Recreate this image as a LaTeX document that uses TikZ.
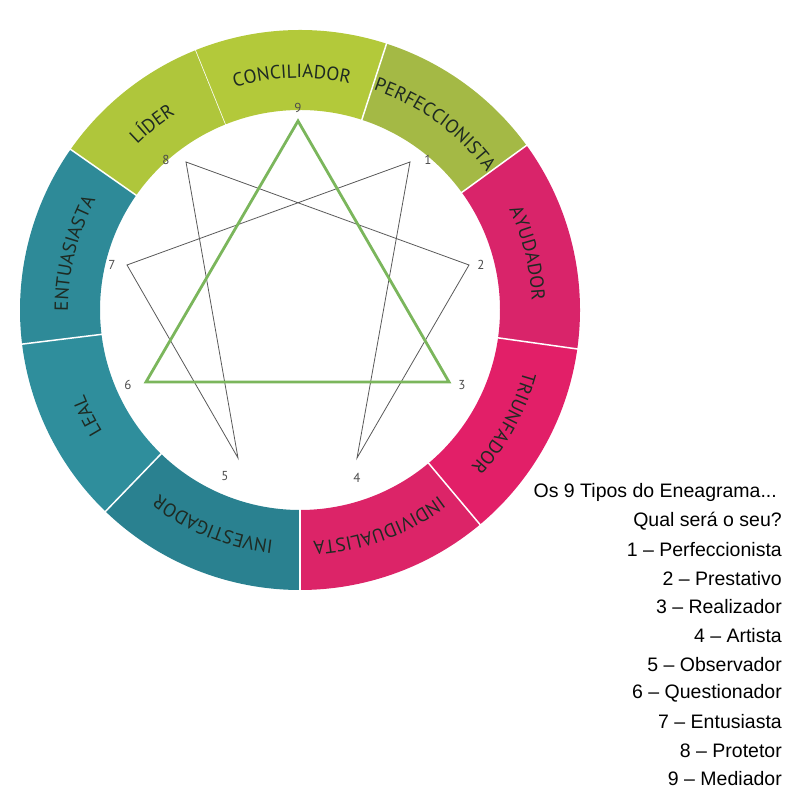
\documentclass[tikz,border=0pt]{standalone}
\usepackage{fontspec}
\setmainfont{Liberation Sans}
\newfontfamily\ringfont{PT Sans}
\usetikzlibrary{decorations.text}
\definecolor{gA}{HTML}{B3C93A}
\definecolor{gB}{HTML}{A4B945}
\definecolor{gC}{HTML}{AFC63B}
\definecolor{pA}{HTML}{D9246A}
\definecolor{pB}{HTML}{E21F68}
\definecolor{pC}{HTML}{DC2468}
\definecolor{tA}{HTML}{2F8E9C}
\definecolor{tB}{HTML}{2A8190}
\definecolor{tC}{HTML}{2E8A98}
\definecolor{ink}{HTML}{1E2A22}
\definecolor{tri}{HTML}{7BB65C}
\begin{document}
\begin{tikzpicture}[x=1pt,y=1pt,
  seg/.style={fill=#1},
  lab/.style={font=\ringfont\fontsize{13}{13}\selectfont, text=black!70},
  enn/.style={draw=black!65, line width=0.8pt},
  info/.style={anchor=east, font=\fontsize{19.5}{21}\selectfont, inner sep=0pt}]
\useasboundingbox (0,0) rectangle (800,800);
\coordinate (c) at (300,490);
% ring segments
\foreach \a/\b/\col in {112/72/gA,72/36/gB,36/-8/pA,-8/-50/pB,-50/-90/pC,-90/-134/tB,-134/-173/tA,-173/-215/tC,-215/-248/gC}{
  \fill[seg=\col] ([shift={(\a:280)}]c) arc[start angle=\a,end angle=\b,radius=280]
     -- ([shift={(\b:200)}]c) arc[start angle=\b,end angle=\a,radius=200] -- cycle;
  \draw[white, line width=1.5pt] ([shift={(\a:195)}]c) -- ([shift={(\a:300)}]c);
}
% ring texts
\foreach \a/\b/\t in {112/72/CONCILIADOR,72/36/PERFECCIONISTA,36/-8/AYUDADOR,-8/-50/TRIUNFADOR,-50/-90/INDIVIDUALISTA,-90/-134/INVESTIGADOR,-134/-173/LEAL,-173/-215/ENTUASIASTA,-215/-248/LÍDER}{
  \path[decorate, decoration={text along path, text align=center,
     text={|\ringfont\fontsize{19}{19}\selectfont\color{ink}|\t}}]
     ([shift={(\a:232)}]c) arc[start angle=\a,end angle=\b,radius=232];
}
% enneagram points
\coordinate (p9) at (298,679);
\coordinate (p1) at (410,638);
\coordinate (p2) at (469,535);
\coordinate (p3) at (449,418);
\coordinate (p4) at (357,342);
\coordinate (p5) at (238,342);
\coordinate (p6) at (146,418);
\coordinate (p7) at (127,535);
\coordinate (p8) at (186,638);
\draw[enn, line join=miter] (p1) -- (p4) -- (p2) -- (p8) -- (p5) -- (p7) -- cycle;
\draw[tri, line width=2.8pt] (p9) -- (p3) -- (p6) -- cycle;
\node[lab] (l9) at (298,692) {9};
\node[lab] (l1) at (428,640) {1};
\node[lab] (l2) at (481,535) {2};
\node[lab] (l3) at (462,415) {3};
\node[lab] (l4) at (357,322) {4};
\node[lab] (l5) at (225,324) {5};
\node[lab] (l6) at (128,415) {6};
\node[lab] (l7) at (112,535) {7};
\node[lab] (l8) at (166,640) {8};
% legend
\node[info] (i0) at (777,308) {Os 9 Tipos do Eneagrama...};
\node[info] (i1) at (782,279.3) {Qual será o seu?};
\node[info] (i2) at (782,250.6) {1 – Perfeccionista};
\node[info] (i3) at (782,221.9) {2 – Prestativo};
\node[info] (i4) at (782,193.2) {3 – Realizador};
\node[info] (i5) at (782,164.5) {4 – Artista};
\node[info] (i6) at (782,135.8) {5 – Observador};
\node[info] (i7) at (782,107.1) {6 – Questionador};
\node[info] (i8) at (782,78.4) {7 – Entusiasta};
\node[info] (i9) at (782,49.7) {8 – Protetor};
\node[info] (i10) at (782,21) {9 – Mediador};
\end{tikzpicture}
\end{document}
